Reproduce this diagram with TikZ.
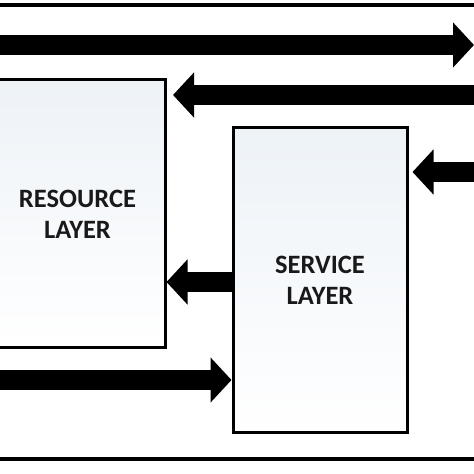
\documentclass[tikz,border=0pt]{standalone}
\usepackage{fontspec}
\setmainfont{Carlito}
\usetikzlibrary{arrows.meta}
\definecolor{boxtop}{rgb}{0.93,0.95,0.97}
\newfontfamily\layerfont{Carlito}
\tikzset{
	layer/.style={draw,line width=3pt,top color=boxtop,bottom color=white,align=center,
		font=\layerfont\bfseries\fontsize{26.5}{31}\selectfont,text=black!90,inner sep=0pt},
	fat/.style={line width=20pt,-{Triangle[length=21pt,width=44pt]}},
	rule/.style={line width=4pt}
}
\begin{document}
\begin{tikzpicture}[x=1pt,y=1pt]
	\useasboundingbox (0,0) rectangle (474,474);
	\node [layer,minimum width=175pt,minimum height=268pt] (res) at (77.5,260) {RESOURCE\\LAYER};
	\node [layer,minimum width=174pt,minimum height=305pt] (srv) at (320,193.5) {SERVICE\\LAYER};

	% borders
	\draw [rule] (0,469) -- (474,469);
	\draw [rule] (0,15) -- (474,15);

	% free ends
	\coordinate (in1) at (0,429);
	\coordinate (out1) at (474,429);
	\coordinate (in2) at (474,379);
	\coordinate (out2) at (173,379);
	\coordinate (in3) at (474,302);
	\coordinate (in4) at (0,94);

	\draw [fat] (in1) -- (out1);
	\draw [fat] (in2) -- (out2);
	\draw [fat,shorten >=4pt] (in3) -- (srv.east |- in3);
	\draw [fat] (srv.west |- 0,192) -- (res.east |- 0,192);
	\draw [fat] (in4) -- (srv.west |- in4);
\end{tikzpicture}
\end{document}
